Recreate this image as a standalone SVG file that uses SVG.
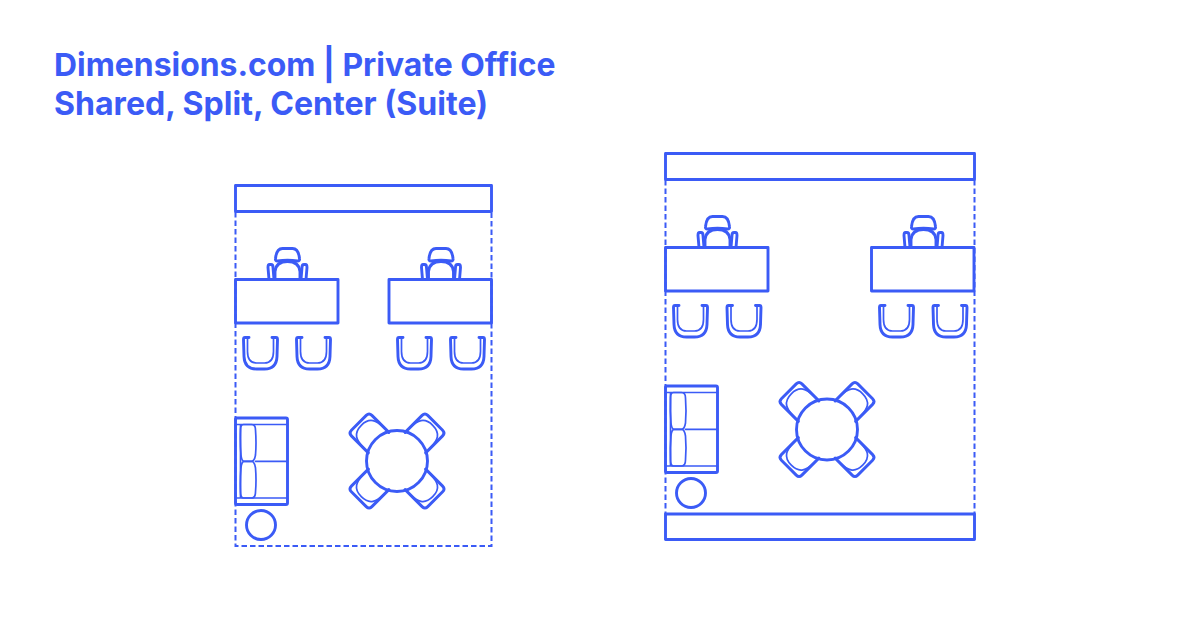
<svg xmlns="http://www.w3.org/2000/svg" width="1200" height="630" viewBox="0 0 1200 630">
<style>
.t{font-family:Inter,"Liberation Sans",sans-serif;font-weight:700;font-size:31.9px;fill:#3b5bf6}
.o{fill:none;stroke:#3b5bf6;stroke-width:2.9;stroke-linejoin:round;stroke-linecap:round}
.i{fill:none;stroke:#3b5bf6;stroke-width:1.7;stroke-linecap:round;stroke-linejoin:round}
.d{fill:none;stroke:#3b5bf6;stroke-width:2;stroke-dasharray:5.500 3}
</style>
<defs>
<g id="execchair">
<path class="o" d="M40 -21Q41 -31 47 -31H57Q63 -31 64 -21Q64.500 -18.500 62 -18.500Q52 -20 42 -18.500Q39.500 -18.500 40 -21Z"/>
<path class="o" d="M39.500 0V-8Q40.500 -18 52 -18Q63.500 -18 64.500 -8V0"/>
<path class="o" d="M38.500 0L37.500 -12Q37.500 -15 35.500 -15H34Q32.500 -15 32.500 -12L33.500 0"/>
<path class="o" d="M65.500 0L66.500 -12Q66.500 -15 68.500 -15H70Q71.500 -15 71.500 -12L70.500 0"/>
<rect class="o" x="0" y="0" width="102.500" height="43.500"/>
</g>
<g id="guest">
<path class="o" d="M5.500 0H1.500Q0 0 0 2L0.500 19Q1 31.500 13 31.500H21Q33 31.500 33.500 19L34 2Q34 0 32.500 0H28.500"/>
<path class="i" d="M4 0V14Q4 25.500 13 25.500H21Q30 25.500 30 14V0"/>
</g>
<g id="tchair">
<path class="o" d="M-14.500 -26L-14.500 -50Q-14.500 -54 -10.500 -54H10.500Q14.500 -54 14.500 -50L14.500 -26"/>
<path class="i" d="M-14.500 -33C-14 -43 -12 -50.500 0 -50.500C12 -50.500 14 -43 14.500 -33"/>
</g>
<g id="sofa">
<rect class="o" x="0" y="0" width="52" height="86.500" rx="1.500"/>
<path class="i" d="M0 6.500H52M0 80H52M5 6.500V80M20 43.300H52"/>
<path class="i" d="M8 6.500H16Q20 6.500 20 12Q21 25 20 37Q19 43.300 16 43.300H9Q6 43.300 5.500 37Q4.500 25 5 12Q5 6.500 8 6.500Z"/>
<path class="i" d="M9 43.300H16Q19 43.300 20 50Q21 62 20 74Q20 80 16 80H8Q5 80 5 74Q4.500 62 5.500 50Q6 43.300 9 43.300Z"/>
</g>
<g id="table">
<use href="#tchair" transform="rotate(-45)"/>
<use href="#tchair" transform="rotate(45)"/>
<use href="#tchair" transform="rotate(135)"/>
<use href="#tchair" transform="rotate(225)"/>
<circle class="o" cx="0" cy="0" r="30.500"/>
</g>
</defs>

<g id="title">
<text class="t" x="54" y="76">Dimensions.com | Private Office</text>
<text class="t" x="54" y="115" style="font-size:32.100px">Shared, Split, Center (Suite)</text>
</g>

<g id="room-left">
<path id="left-boundary" class="d" d="M235.500 212V546H491.500V212"/>
<rect id="left-counter" class="o" x="235.500" y="185.500" width="256" height="26"/>
<g id="left-desk-1"><use href="#execchair" transform="translate(235.500 279.500)"/></g>
<g id="left-desk-2"><use href="#execchair" transform="translate(389 279.500)"/></g>
<g id="left-guest-1"><use href="#guest" transform="translate(243.500 337.500)"/></g>
<g id="left-guest-2"><use href="#guest" transform="translate(296.500 337.500)"/></g>
<g id="left-guest-3"><use href="#guest" transform="translate(397.500 337.500)"/></g>
<g id="left-guest-4"><use href="#guest" transform="translate(450.500 337.500)"/></g>
<g id="left-sofa"><use href="#sofa" transform="translate(235.500 418)"/></g>
<g id="left-side-table"><circle class="o" cx="261" cy="525" r="14.500"/></g>
<g id="left-table"><use href="#table" transform="translate(397 461)"/></g>
</g>

<g id="room-right">
<path id="right-boundary-l" class="d" d="M665.500 180V514"/>
<path id="right-boundary-r" class="d" d="M974.500 180V514"/>
<rect id="right-counter-top" class="o" x="665.500" y="153.500" width="309" height="26"/>
<rect id="right-counter-bottom" class="o" x="665.500" y="514" width="309" height="25.500"/>
<g id="right-desk-1"><use href="#execchair" transform="translate(665.500 247.500)"/></g>
<g id="right-desk-2"><use href="#execchair" transform="translate(871.500 247.500)"/></g>
<g id="right-guest-1"><use href="#guest" transform="translate(673.500 305.500)"/></g>
<g id="right-guest-2"><use href="#guest" transform="translate(727 305.500)"/></g>
<g id="right-guest-3"><use href="#guest" transform="translate(879.500 305.500)"/></g>
<g id="right-guest-4"><use href="#guest" transform="translate(933 305.500)"/></g>
<g id="right-sofa"><use href="#sofa" transform="translate(665.500 386)"/></g>
<g id="right-side-table"><circle class="o" cx="691" cy="493" r="14.500"/></g>
<g id="right-table"><use href="#table" transform="translate(827 429.500)"/></g>
</g>
</svg>
